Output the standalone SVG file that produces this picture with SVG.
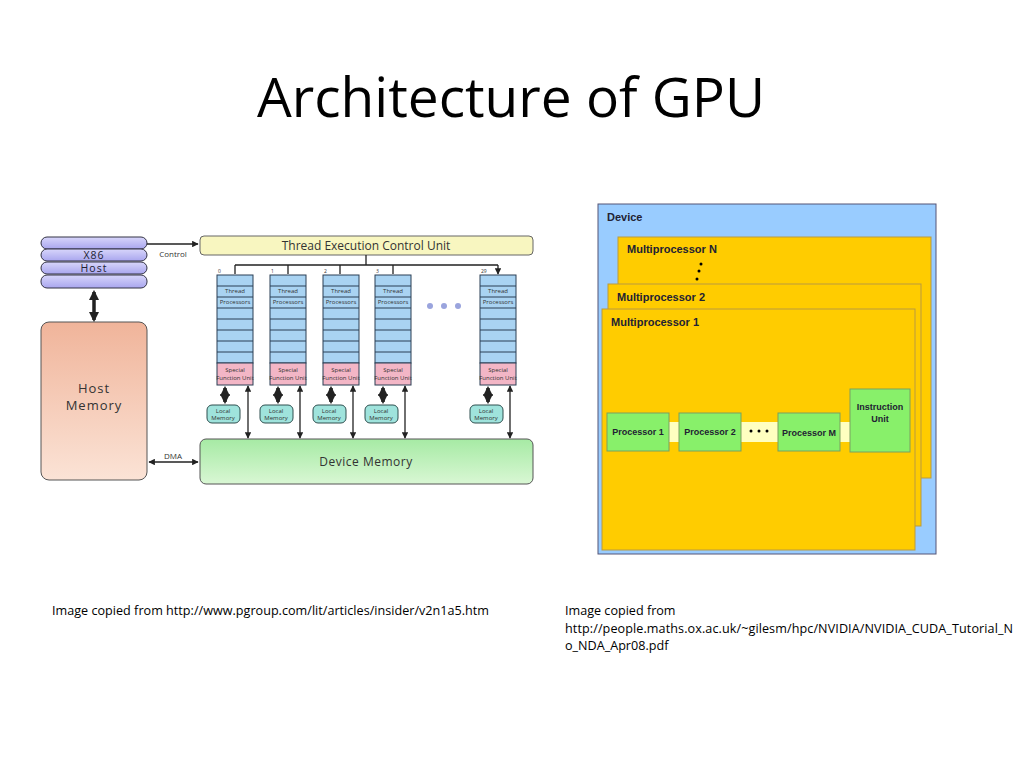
<svg xmlns="http://www.w3.org/2000/svg" width="1024" height="768" viewBox="0 0 1024 768">
<defs>
<style>
text{font-family:"Open Sans","Liberation Sans",sans-serif}
.col{fill:#a9d3f2;stroke:#2a3f55;stroke-width:1}
.sfu{fill:#f3b6c6;stroke:#2a3f55;stroke-width:1}
.lm{fill:#9fe3dc;stroke:#2f4f4f;stroke-width:1}
.ln{stroke:#222;stroke-width:1.3;fill:none}
.thick{stroke:#222;stroke-width:3.5;fill:none}
.mp{fill:#ffcc00;stroke:#b99a40;stroke-width:1}
.pr{fill:#88f06a;stroke:#7aa060;stroke-width:1}
.t8{font-size:6px;fill:#333;text-anchor:middle}
.b{font-family:"Liberation Sans",Arial,sans-serif;font-weight:bold;fill:#223}
.cap{font-size:12.6px;fill:#000}
</style>
<linearGradient id="hm" x1="0" y1="0" x2="0" y2="1"><stop offset="0" stop-color="#f0b49a"/><stop offset="1" stop-color="#fbe3d6"/></linearGradient>
<linearGradient id="dm" x1="0" y1="0" x2="0" y2="1"><stop offset="0" stop-color="#a6eaa4"/><stop offset="1" stop-color="#d9f7d4"/></linearGradient>
<linearGradient id="hx" x1="0" y1="0" x2="0" y2="1"><stop offset="0" stop-color="#d8d6fb"/><stop offset="1" stop-color="#a9a6ee"/></linearGradient>
<marker id="a" viewBox="0 0 10 10" refX="9" refY="5" markerWidth="5" markerHeight="5" orient="auto-start-reverse"><path d="M0,0L10,5L0,10z" fill="#222"/></marker>
<marker id="A" viewBox="0 0 10 10" refX="8" refY="5" markerWidth="3" markerHeight="3" orient="auto-start-reverse"><path d="M0,0L10,5L0,10z" fill="#222"/></marker>
</defs>
<rect width="1024" height="768" fill="#fff"/>
<text x="511" y="117" font-size="55" text-anchor="middle" fill="#000">Architecture of GPU</text>

<g id="x86host">
<rect x="41" y="237" width="106" height="12" rx="6" fill="url(#hx)" stroke="#334" />
<rect x="41" y="249" width="106" height="12" rx="6" fill="url(#hx)" stroke="#334"/>
<rect x="41" y="262" width="106" height="12" rx="6" fill="url(#hx)" stroke="#334"/>
<rect x="41" y="275" width="106" height="13" rx="6" fill="url(#hx)" stroke="#334"/>
<text x="94" y="259" font-size="10.5" text-anchor="middle" fill="#223" letter-spacing="1">X86</text>
<text x="94" y="272" font-size="10.5" text-anchor="middle" fill="#223" letter-spacing="1">Host</text>
</g>
<g id="hostmem">
<rect x="41" y="322" width="106" height="158" rx="8" fill="url(#hm)" stroke="#555"/>
<text x="94" y="393" font-size="13" text-anchor="middle" fill="#333" letter-spacing="1">Host</text>
<text x="94" y="410" font-size="13" text-anchor="middle" fill="#333" letter-spacing="1">Memory</text>
</g>
<g id="tecu">
<rect x="200" y="236" width="333" height="19" rx="4" fill="#f8f6c0" stroke="#666"/>
<text x="366" y="250" font-size="12" text-anchor="middle" fill="#333">Thread Execution Control Unit</text>
</g>
<g id="devmem">
<rect x="200" y="439" width="333" height="45" rx="6" fill="url(#dm)" stroke="#555"/>
<text x="366" y="466" font-size="12" text-anchor="middle" fill="#333" letter-spacing="0.5">Device Memory</text>
</g>

<g id="columns">
<g id="c0" transform="translate(217,0)">
<rect class="col" x="0" y="275" width="36" height="88"/>
<path d="M0 286H36M0 297H36M0 308H36M0 319H36M0 330H36M0 341H36M0 352H36" stroke="#2a3f55"/>
<rect class="sfu" x="0" y="363" width="36" height="22"/>
<text class="t8" x="18" y="293">Thread</text><text class="t8" x="18" y="304">Processors</text>
<text class="t8" x="18" y="372">Special</text><text class="t8" x="18" y="380">Function Unit</text>
<rect class="lm" x="-10" y="405" width="33" height="18" rx="5"/>
<text class="t8" x="6" y="413">Local</text><text class="t8" x="6" y="420">Memory</text>
<text x="1" y="273" font-size="5" fill="#333">0</text>
</g>
<g id="c1" transform="translate(270,0)">
<rect class="col" x="0" y="275" width="36" height="88"/>
<path d="M0 286H36M0 297H36M0 308H36M0 319H36M0 330H36M0 341H36M0 352H36" stroke="#2a3f55"/>
<rect class="sfu" x="0" y="363" width="36" height="22"/>
<text class="t8" x="18" y="293">Thread</text><text class="t8" x="18" y="304">Processors</text>
<text class="t8" x="18" y="372">Special</text><text class="t8" x="18" y="380">Function Unit</text>
<rect class="lm" x="-10" y="405" width="33" height="18" rx="5"/>
<text class="t8" x="6" y="413">Local</text><text class="t8" x="6" y="420">Memory</text>
<text x="1" y="273" font-size="5" fill="#333">1</text>
</g>
<g id="c2" transform="translate(323,0)">
<rect class="col" x="0" y="275" width="36" height="88"/>
<path d="M0 286H36M0 297H36M0 308H36M0 319H36M0 330H36M0 341H36M0 352H36" stroke="#2a3f55"/>
<rect class="sfu" x="0" y="363" width="36" height="22"/>
<text class="t8" x="18" y="293">Thread</text><text class="t8" x="18" y="304">Processors</text>
<text class="t8" x="18" y="372">Special</text><text class="t8" x="18" y="380">Function Unit</text>
<rect class="lm" x="-10" y="405" width="33" height="18" rx="5"/>
<text class="t8" x="6" y="413">Local</text><text class="t8" x="6" y="420">Memory</text>
<text x="1" y="273" font-size="5" fill="#333">2</text>
</g>
<g id="c3" transform="translate(375,0)">
<rect class="col" x="0" y="275" width="36" height="88"/>
<path d="M0 286H36M0 297H36M0 308H36M0 319H36M0 330H36M0 341H36M0 352H36" stroke="#2a3f55"/>
<rect class="sfu" x="0" y="363" width="36" height="22"/>
<text class="t8" x="18" y="293">Thread</text><text class="t8" x="18" y="304">Processors</text>
<text class="t8" x="18" y="372">Special</text><text class="t8" x="18" y="380">Function Unit</text>
<rect class="lm" x="-10" y="405" width="33" height="18" rx="5"/>
<text class="t8" x="6" y="413">Local</text><text class="t8" x="6" y="420">Memory</text>
<text x="1" y="273" font-size="5" fill="#333">3</text>
</g>
<g id="c29" transform="translate(480,0)">
<rect class="col" x="0" y="275" width="36" height="88"/>
<path d="M0 286H36M0 297H36M0 308H36M0 319H36M0 330H36M0 341H36M0 352H36" stroke="#2a3f55"/>
<rect class="sfu" x="0" y="363" width="36" height="22"/>
<text class="t8" x="18" y="293">Thread</text><text class="t8" x="18" y="304">Processors</text>
<text class="t8" x="18" y="372">Special</text><text class="t8" x="18" y="380">Function Unit</text>
<rect class="lm" x="-10" y="405" width="33" height="18" rx="5"/>
<text class="t8" x="6" y="413">Local</text><text class="t8" x="6" y="420">Memory</text>
<text x="1" y="273" font-size="5" fill="#333">29</text>
</g>
<circle cx="430" cy="306" r="3" fill="#9aa4dd"/><circle cx="444" cy="306" r="3" fill="#9aa4dd"/><circle cx="458" cy="306" r="3" fill="#9aa4dd"/>
</g>

<g id="connectors">
<path class="ln" d="M147 244H198" marker-end="url(#a)"/>
<text x="173" y="257" font-size="8" text-anchor="middle" fill="#333">Control</text>
<path class="thick" d="M94 292V320" marker-start="url(#A)" marker-end="url(#A)"/>
<path class="ln" d="M149 462H198" marker-start="url(#a)" marker-end="url(#a)"/>
<text x="173" y="459" font-size="8" text-anchor="middle" fill="#333">DMA</text>
<path class="ln" d="M366 255V265M235 265H498"/>
<path class="ln" d="M235 265V274M288 265V274M340 265V274M393 265V274M498 265V274" marker-end="url(#a)"/>
<g marker-start="url(#A)" marker-end="url(#A)">
<path class="thick" d="M225 388V402"/><path class="thick" d="M278 388V402"/><path class="thick" d="M331 388V402"/><path class="thick" d="M383 388V402"/><path class="thick" d="M488 388V402"/>
</g>
<g marker-start="url(#a)" marker-end="url(#a)">
<path class="ln" d="M248 386V438"/><path class="ln" d="M300 386V438"/><path class="ln" d="M353 386V438"/><path class="ln" d="M405 386V438"/><path class="ln" d="M510 386V438"/>
</g>
</g>

<g id="device">
<rect x="598" y="204" width="338" height="350" fill="#99ccff" stroke="#557"/>
<text class="b" x="607" y="221" font-size="11">Device</text>
</g>
<g id="mpN"><rect class="mp" x="618" y="237" width="313" height="241"/>
<text class="b" x="627" y="253" font-size="11">Multiprocessor N</text>
<circle cx="701" cy="264" r="1.5" fill="#000"/><circle cx="699" cy="271" r="1.5" fill="#000"/><circle cx="697" cy="279" r="1.5" fill="#000"/></g>
<g id="mp2"><rect class="mp" x="608" y="284" width="313" height="242"/>
<text class="b" x="617" y="301" font-size="11">Multiprocessor 2</text></g>
<g id="mp1"><rect class="mp" x="602" y="309" width="313" height="241"/>
<text class="b" x="611" y="326" font-size="11">Multiprocessor 1</text></g>
<g id="bus"><rect x="669" y="422" width="181" height="20" fill="#ffffc0"/>
<circle cx="751" cy="431" r="1.5" fill="#000"/><circle cx="759" cy="431" r="1.5" fill="#000"/><circle cx="767" cy="431" r="1.5" fill="#000"/></g>
<g id="p1"><rect class="pr" x="607" y="413" width="62" height="38"/><text class="b" x="638" y="435" font-size="9" text-anchor="middle">Processor 1</text></g>
<g id="p2"><rect class="pr" x="679" y="413" width="62" height="38"/><text class="b" x="710" y="435" font-size="9" text-anchor="middle">Processor 2</text></g>
<g id="pM"><rect class="pr" x="778" y="413" width="62" height="38"/><text class="b" x="809" y="436" font-size="9" text-anchor="middle">Processor M</text></g>
<g id="iu"><rect class="pr" x="850" y="389" width="60" height="63"/><text class="b" x="880" y="410" font-size="9" text-anchor="middle">Instruction</text><text class="b" x="880" y="422" font-size="9" text-anchor="middle">Unit</text></g>

<text class="cap" x="52" y="615" textLength="437">Image copied from http://www.pgroup.com/lit/articles/insider/v2n1a5.htm</text>
<text class="cap" x="565" y="615">Image copied from</text>
<text class="cap" x="565" y="633" textLength="448">http://people.maths.ox.ac.uk/~gilesm/hpc/NVIDIA/NVIDIA_CUDA_Tutorial_N</text>
<text class="cap" x="565" y="650">o_NDA_Apr08.pdf</text>
</svg>
